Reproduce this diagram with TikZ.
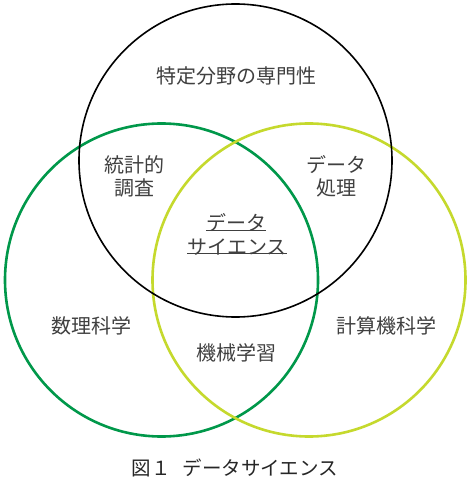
\documentclass[tikz,border=0pt]{standalone}
\usepackage{fontspec}
\newfontfamily\jp{Noto Sans CJK JP}
\definecolor{txt}{HTML}{404040}
\definecolor{cgreen}{HTML}{00984A}
\definecolor{cyellow}{HTML}{C5D92D}
\begin{document}
\begin{tikzpicture}[x=1pt,y=-1pt,
  lbl/.style={text=txt,inner sep=0pt,font=\jp\fontsize{20}{23.5}\selectfont,align=center},
  captionstyle/.style={text=black!85,inner sep=0pt,font=\jp\fontsize{19.5}{23}\selectfont}]
\useasboundingbox[fill=white] (0,0) rectangle (474,481);
\draw[cgreen,line width=2.6pt] (161.5,280) circle[radius=156.5];
\draw[cyellow,line width=2.6pt] (309,280) circle[radius=156.5];
\draw[black,line width=1.6pt] (235.5,160.5) circle[radius=156.5];
\node[lbl] (spec) at (236,76) {特定分野の専門性};
\node[lbl] (stat) at (134,176.5) {統計的\\調査};
\node[lbl] (proc) at (336,176.5) {データ\\処理};
\node[lbl] (ds1) at (236,223) {データ};
\node[lbl] (ds2) at (237,247) {サイエンス};
\draw[txt,line width=0.9pt] ([yshift=2pt]ds1.south west) -- ([yshift=2pt]ds1.south east);
\draw[txt,line width=0.9pt] ([yshift=2pt]ds2.south west) -- ([yshift=2pt]ds2.south east);
\node[lbl] (math) at (91,326) {数理科学};
\node[lbl] (comp) at (386,326) {計算機科学};
\node[lbl] (ml) at (236.5,353) {機械学習};
\node[captionstyle] (caption) at (235,468) {図１\hspace{0.6em}データサイエンス};
\end{tikzpicture}
\end{document}
